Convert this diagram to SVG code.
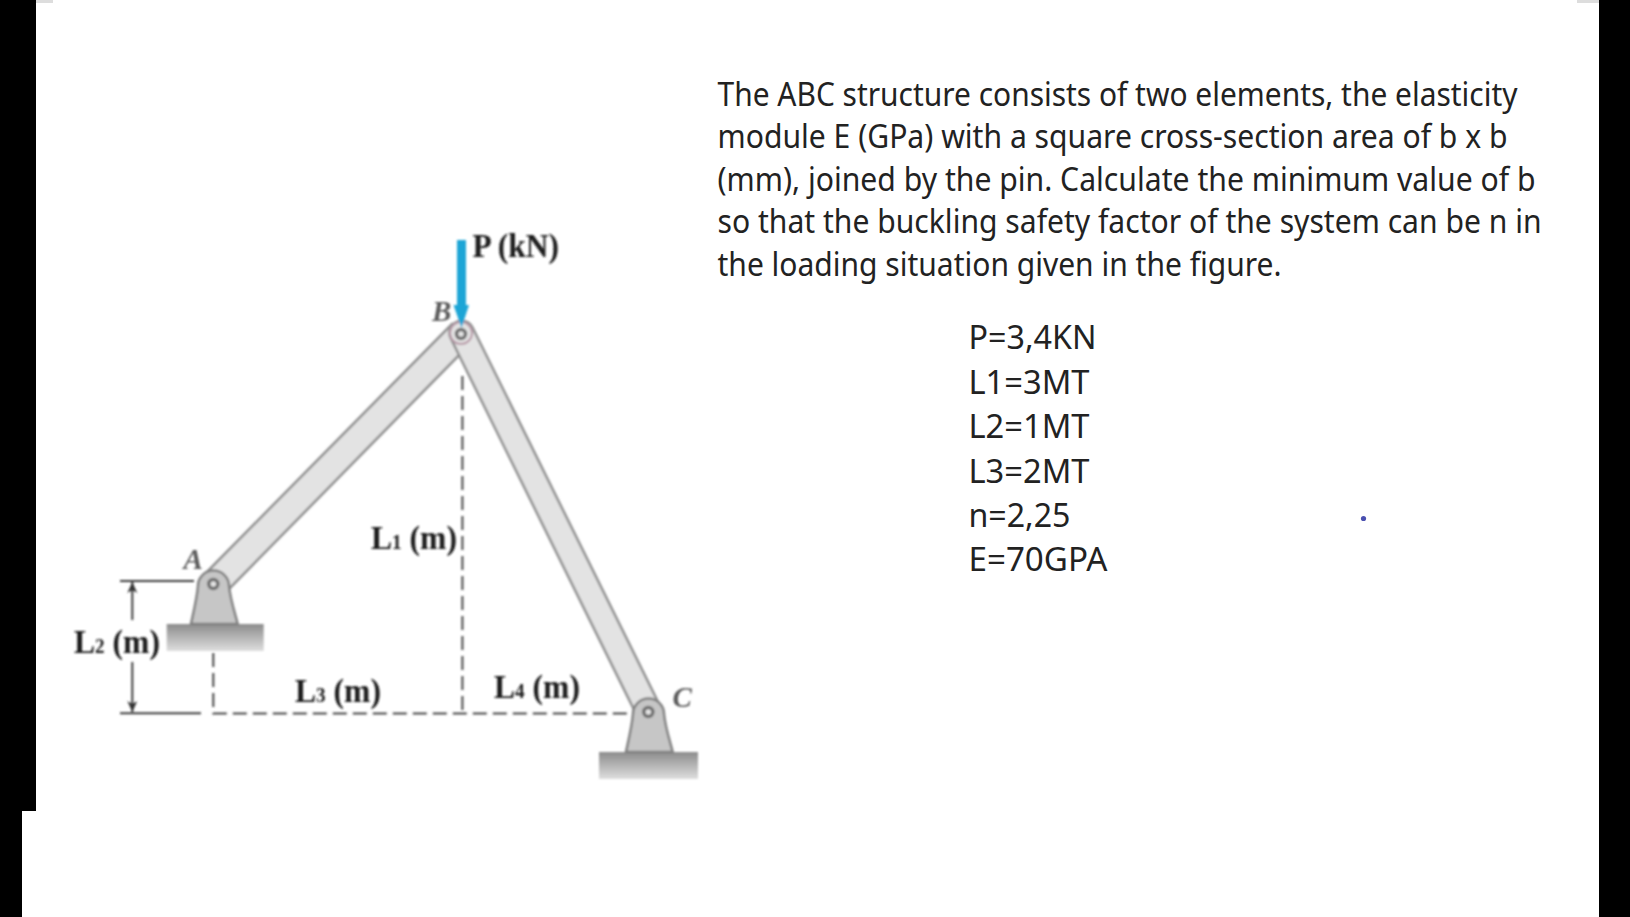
<svg xmlns="http://www.w3.org/2000/svg" width="1630" height="917" viewBox="0 0 1630 917">
<style>
.body{font-family:"Noto Sans","Open Sans","Liberation Sans",sans-serif;font-size:32.500px;fill:#222}
.fig{font-family:"Liberation Serif","Times New Roman",serif;font-weight:bold;font-size:33px;fill:#1a1a1a}
.pt{font-family:"Liberation Serif","Times New Roman",serif;font-weight:bold;font-style:italic;font-size:29px;fill:#5c5c5c}
.sub{font-size:20px}
.bar{fill:#e3e3e3;stroke:#8e8e8e;stroke-width:2.500}
.dim{fill:none;stroke:#3a3a3a;stroke-width:2}
.dash{fill:none;stroke:#444;stroke-width:2;stroke-dasharray:14 6}
.sup{fill:#c6c6c6;stroke:#808080;stroke-width:2.500}
.pinO{fill:#e4e4e4;stroke:#6f6f6f;stroke-width:3.500}
</style>
<defs>
<filter id="soft" x="-5%" y="-5%" width="110%" height="110%"><feGaussianBlur stdDeviation="0.8"/></filter>
<linearGradient id="base" x1="0" y1="0" x2="0" y2="1"><stop offset="0" stop-color="#8c8c8c"/><stop offset="1" stop-color="#dedede"/></linearGradient>
<marker id="dimHead" markerWidth="12" markerHeight="14" refX="11" refY="5" orient="auto" markerUnits="userSpaceOnUse"><path d="M0 0L11 5L0 10L3 5Z" fill="#333"/></marker>
<g id="support">
<path class="sup" d="M191 624C194 610 197 598 198 586A15.500 15.500 0 0 1 229 586C230 598 234 610 237.700 624Z"/>
<circle class="pinO" cx="213.300" cy="584" r="4.500"/>
</g>
</defs>
<rect width="1630" height="917" fill="#fff"/>
<g id="frame">
<rect x="0" y="0" width="36" height="811" fill="#000"/>
<rect x="0" y="811" width="22" height="106" fill="#000"/>
<rect x="1599" y="0" width="31" height="917" fill="#000"/>
<rect x="36" y="0" width="17" height="3" fill="#ddd"/>
<rect x="1577" y="0" width="22" height="3" fill="#ddd"/>
</g>
<g filter="url(#soft)">
<g id="connectors">
<path class="dim" d="M120 581H194M120 713.300H201"/>
<path class="dim" marker-end="url(#dimHead)" d="M132.300 620V582"/>
<path class="dim" marker-end="url(#dimHead)" d="M132.300 662V712"/>
<path class="dash" d="M213.300 653V713.500H632"/>
<path class="dash" d="M462.400 376V713"/>
</g>
<g id="member-ab"><path class="bar" d="M204 575L452 324L471 343L225 593Z"/></g>
<g id="support-a"><rect x="166.700" y="624" width="97" height="27" fill="url(#base)"/><use href="#support"/></g>
<g id="member-bc"><path class="bar" d="M450.700 338.300A11.800 11.800 0 0 1 472.500 327.500L660 706L637.700 717Z"/></g>
<g id="support-c"><rect x="599" y="752" width="99" height="27" fill="url(#base)"/><use href="#support" transform="translate(435 128)"/></g>
<g id="pin-b"><circle cx="461" cy="333" r="11" fill="none" stroke="#b89aa8" stroke-width="2"/><circle class="pinO" cx="461" cy="334" r="4.500"/></g>
<g id="load-p">
<rect x="457" y="240" width="9" height="68" fill="#1fa5d6"/>
<path d="M453.500 305H469L461.500 328Z" fill="#1fa5d6"/>
</g>
<g id="figure-labels">
<text class="fig" x="472.500" y="257" textLength="86.500" lengthAdjust="spacingAndGlyphs">P (kN)</text>
<text class="pt" x="432" y="321">B</text>
<text class="pt" x="183.500" y="569">A</text>
<text class="pt" x="672.500" y="707" font-weight="normal">C</text>
<text class="fig" x="371" y="549" textLength="86" lengthAdjust="spacingAndGlyphs">L<tspan class="sub">1</tspan> (m)</text>
<text class="fig" x="74" y="653" textLength="86" lengthAdjust="spacingAndGlyphs">L<tspan class="sub">2</tspan> (m)</text>
<text class="fig" x="295" y="702" textLength="86" lengthAdjust="spacingAndGlyphs">L<tspan class="sub">3</tspan> (m)</text>
<text class="fig" x="494" y="698" textLength="86" lengthAdjust="spacingAndGlyphs">L<tspan class="sub">4</tspan> (m)</text>
</g>
</g>
<g id="statement">
<text class="body" x="717.500" y="105.500" textLength="800" lengthAdjust="spacingAndGlyphs">The ABC structure consists of two elements, the elasticity</text>
<text class="body" x="717.500" y="148" textLength="790" lengthAdjust="spacingAndGlyphs">module E (GPa) with a square cross-section area of b x b</text>
<text class="body" x="717.500" y="190.500" textLength="818" lengthAdjust="spacingAndGlyphs">(mm), joined by the pin. Calculate the minimum value of b</text>
<text class="body" x="717.500" y="233" textLength="824" lengthAdjust="spacingAndGlyphs">so that the buckling safety factor of the system can be n in</text>
<text class="body" x="717.500" y="275.500" textLength="564" lengthAdjust="spacingAndGlyphs">the loading situation given in the figure.</text>
</g>
<g id="values">
<text class="body" x="968.500" y="349" textLength="128" lengthAdjust="spacingAndGlyphs">P=3,4KN</text>
<text class="body" x="968.500" y="394" textLength="121" lengthAdjust="spacingAndGlyphs">L1=3MT</text>
<text class="body" x="968.500" y="438" textLength="121" lengthAdjust="spacingAndGlyphs">L2=1MT</text>
<text class="body" x="968.500" y="483" textLength="121" lengthAdjust="spacingAndGlyphs">L3=2MT</text>
<text class="body" x="968.500" y="527" textLength="102" lengthAdjust="spacingAndGlyphs">n=2,25</text>
<text class="body" x="968.500" y="571" textLength="139" lengthAdjust="spacingAndGlyphs">E=70GPA</text>
</g>
<circle id="dot" cx="1363.500" cy="518.500" r="2.600" fill="#4a50b0"/>
</svg>
